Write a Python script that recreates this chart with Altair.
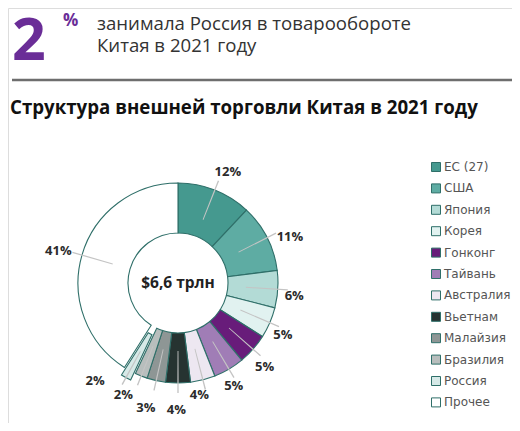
import altair as alt
import pandas as pd

# ---------------- data ----------------
categories = ["ЕС (27)", "США", "Япония", "Корея", "Гонконг", "Тайвань",
              "Австралия", "Вьетнам", "Малайзия", "Бразилия", "Россия", "Прочее"]
shares = [12, 11, 6, 5, 5, 5, 4, 4, 3, 2, 2, 41]
colors = ["#45998f", "#5eaca3", "#b3dbd6", "#e1f2f0", "#681c7a", "#a07db6",
          "#ede7f1", "#263331", "#8e9695", "#b8bebd", "#d6e9e7", "#ffffff"]
headline_number = ["2"]
headline_unit = ["%"]
headline_lines = ["занимала Россия в товарообороте", "Китая в 2021 году"]
chart_title = ["Структура внешней торговли Китая в 2021 году"]
center_label = ["$6,6 трлн"]
exploded = "Россия"

# label placement nudges (layout only): angle in share units, radius in px
label_dtheta = [0.7, 1.3, 0.8, 0.8, 0.8, 0.6, 1.0, 0.2, 0.5, 1.2, 3.2, -0.3]
label_dr = [2, 1, -3, -3, 1, -3, -6, 7, 9, 5, 8, 4]

df = pd.DataFrame({
    "cat": categories,
    "share": shares,
    "order": list(range(len(categories))),
    "dt": label_dtheta,
    "dr": label_dr,
})

CX, CY = 170, 275
FONT = "Open Sans"
LEGEND_FONT = "DejaVu Sans"
STROKE = "#2f6f69"

theta_scale = alt.Scale(domain=[0, 100], range=[0, 6.283185307179586])

base = (
    alt.Chart(df)
    .transform_window(cum="sum(share)", sort=[alt.SortField("order")], frame=[None, 0])
    .transform_calculate(
        start="datum.cum - datum.share",
        mid="datum.cum - datum.share / 2",
        lt="datum.cum - datum.share / 2 + datum.dt",
        lr="120 + datum.dr",
        l0="datum.cum - datum.share / 2 - 0.1",
        l1="datum.cum - datum.share / 2 + 0.1",
        label="datum.share + '%'",
    )
)

color_enc = alt.Color(
    "cat:N",
    scale=alt.Scale(domain=categories, range=colors),
    sort=categories,
    legend=alt.Legend(
        title=None, orient="none", legendX=422, legendY=153,
        symbolType="square", symbolSize=81, symbolStrokeColor=STROKE,
        symbolStrokeWidth=1, labelFont=LEGEND_FONT, labelFontSize=12,
        labelColor="#555555", rowPadding=7.4, labelOffset=2,
        labelLimit=200,
    ),
)

arcs = base.transform_filter(f"datum.cat != '{exploded}'").mark_arc(
    radius=100, radius2=50, stroke=STROKE, strokeWidth=1.1
).encode(
    theta=alt.Theta("start:Q", scale=theta_scale, stack=None),
    theta2="cum:Q",
    color=color_enc,
    x=alt.value(CX), y=alt.value(CY),
)

arc_exp = base.transform_filter(f"datum.cat == '{exploded}'").mark_arc(
    radius=108, radius2=58, stroke=STROKE, strokeWidth=1.1, padAngle=0.025
).encode(
    theta=alt.Theta("start:Q", scale=theta_scale, stack=None),
    theta2="cum:Q",
    color=color_enc,
    x=alt.value(CX), y=alt.value(CY),
)

leaders = base.transform_filter(f"datum.cat != '{exploded}'").mark_arc(
    radius=110, radius2=68, color="#c4c4c4"
).encode(
    theta=alt.Theta("l0:Q", scale=theta_scale, stack=None),
    theta2="l1:Q",
    x=alt.value(CX), y=alt.value(CY),
)

leader_exp = base.transform_filter(f"datum.cat == '{exploded}'").mark_arc(
    radius=116, radius2=78, color="#c4c4c4"
).encode(
    theta=alt.Theta("l0:Q", scale=theta_scale, stack=None),
    theta2="l1:Q",
    x=alt.value(CX), y=alt.value(CY),
)

labels = base.mark_text(
    font=FONT, fontSize=13, fontWeight="bold", color="#2b2b2b",
    align="center", baseline="middle"
).encode(
    theta=alt.Theta("lt:Q", scale=theta_scale, stack=None),
    radius=alt.Radius("lr:Q", scale=None),
    text="label:N",
    x=alt.value(CX), y=alt.value(CY),
)


def text_layer(values, x, y, **kw):
    return alt.Chart(pd.DataFrame({"t": values})).mark_text(**kw).encode(
        text="t:N", x=alt.value(x), y=alt.value(y)
    )


center = text_layer(center_label, CX, CY, font=FONT, fontSize=15.5,
                    fontWeight="bold", color="#222222",
                    align="center", baseline="middle")

big_num = text_layer(headline_number, 4, 52, font=FONT, fontSize=59,
                     fontWeight="bold", color="#6a2d97",
                     align="left", baseline="alphabetic")

unit = text_layer(headline_unit, 55, 18, font=FONT, fontSize=17,
                  fontWeight="bold", color="#6a2d97",
                  align="left", baseline="alphabetic")

head = text_layer(["\n".join(headline_lines)], 89, 22, font=FONT, fontSize=18.6,
                  color="#333333", align="left", baseline="alphabetic",
                  lineBreak="\n", lineHeight=22)

rule = alt.Chart(pd.DataFrame({"a": [0]})).mark_rule(
    color="#6e6e6e", strokeWidth=2.5
).encode(x=alt.value(4), x2=alt.value(504), y=alt.value(72))

title = text_layer(chart_title, 2, 106, font=FONT, fontSize=18.7,
                   fontWeight="bold", color="#111111",
                   align="left", baseline="alphabetic")

chart = alt.layer(
    arcs, arc_exp, leaders, leader_exp, labels, center,
    big_num, unit, head, rule, title
).properties(
    width=504, height=415, padding=0,
    autosize=alt.AutoSizeParams(type="none"),
).configure_view(stroke=None).configure(background="white")

chart.save("out.html", embed_options={"renderer": "svg", "actions": False})
